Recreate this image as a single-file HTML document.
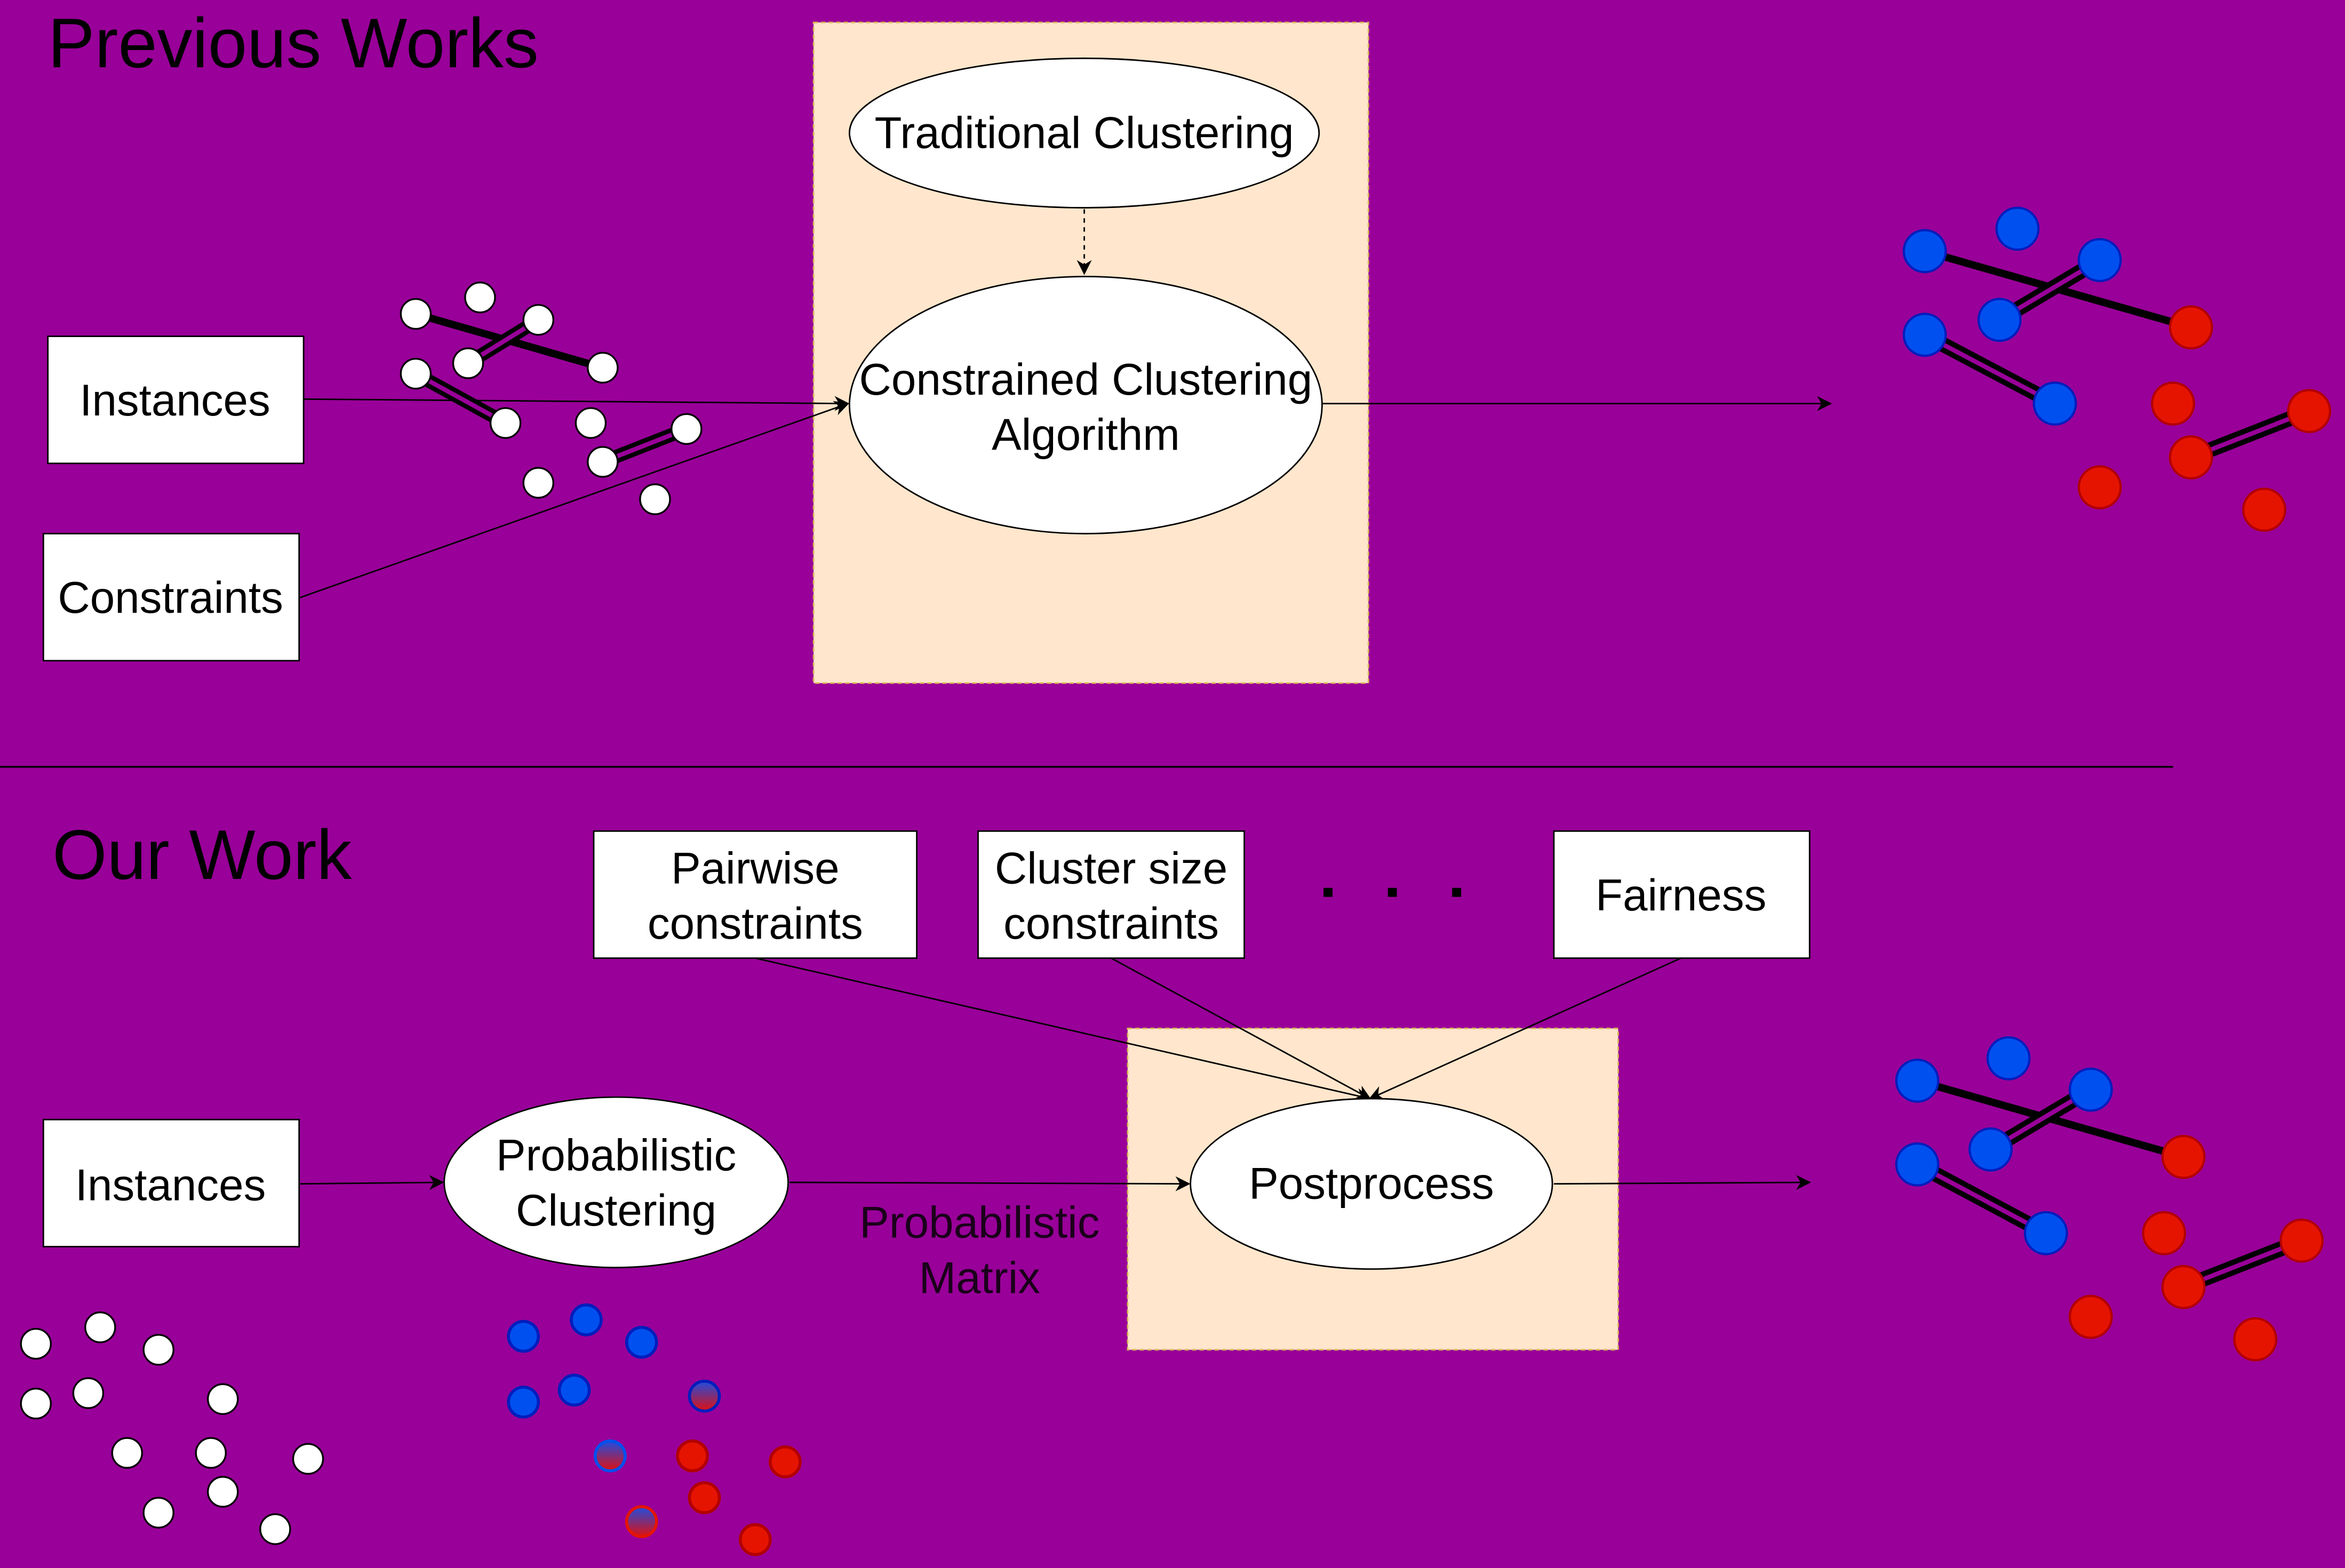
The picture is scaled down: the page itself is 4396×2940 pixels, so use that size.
<!DOCTYPE html>
<html><head><meta charset="utf-8"><style>html,body{margin:0;padding:0;background:#990099}svg{display:block}</style></head>
<body>
<svg width="4396" height="2940" viewBox="0 0 1568 1049" preserveAspectRatio="none" xmlns="http://www.w3.org/2000/svg" font-family="Liberation Sans, sans-serif">
<defs>
<marker id="a" markerWidth="10" markerHeight="10" refX="9" refY="5" orient="auto" markerUnits="userSpaceOnUse"><path d="M0,0 L10,5 L0,10 L3,5 z" fill="#000"/></marker>
<linearGradient id="g" x1="0" y1="0" x2="0" y2="1"><stop offset="0" stop-color="#1f4de0"/><stop offset="1" stop-color="#e01010"/></linearGradient>
</defs>
<rect width="1568" height="1049" fill="#990099"/>
<text x="32" y="45" font-size="47">Previous Works</text>
<rect x="544" y="15" width="371" height="442" fill="#FFE6CC" stroke="#d6b656" stroke-dasharray="3 2"/>
<ellipse cx="725" cy="89" rx="157" ry="50" fill="#fff" stroke="#000"/>
<text x="725" y="99" font-size="29.8" text-anchor="middle">Traditional Clustering</text>
<line x1="725" y1="140" x2="725" y2="183" stroke="#000" stroke-dasharray="3 3" marker-end="url(#a)"/>
<ellipse cx="726" cy="271" rx="158" ry="86" fill="#fff" stroke="#000"/>
<text x="726" y="264" font-size="29.8" text-anchor="middle">Constrained Clustering</text>
<text x="726" y="301" font-size="29.8" text-anchor="middle">Algorithm</text>
<rect x="32" y="225" width="171" height="85" fill="#fff" stroke="#000"/>
<text x="117" y="278" font-size="29.8" text-anchor="middle">Instances</text>
<rect x="29" y="357" width="171" height="85" fill="#fff" stroke="#000"/>
<text x="114" y="410" font-size="29.8" text-anchor="middle">Constraints</text>
<line x1="203" y1="267" x2="567" y2="270" stroke="#000" marker-end="url(#a)"/>
<line x1="200" y1="400" x2="567" y2="270" stroke="#000" marker-end="url(#a)"/>
<line x1="884" y1="270" x2="1224" y2="270" stroke="#000" marker-end="url(#a)"/>
<g stroke="#000" stroke-width="5"><line x1="278" y1="210" x2="403" y2="246"/></g>
<g stroke="#000" stroke-width="9"><line x1="313" y1="243" x2="360" y2="214"/><line x1="278" y1="250" x2="338" y2="283"/><line x1="403" y1="309" x2="459" y2="287"/></g>
<g stroke="#990099" stroke-width="3"><line x1="313" y1="243" x2="360" y2="214"/><line x1="278" y1="250" x2="338" y2="283"/><line x1="403" y1="309" x2="459" y2="287"/></g>
<g fill="#fff" stroke="#000" stroke-width="1.2">
<circle cx="278" cy="210" r="10"/><circle cx="321" cy="199" r="10"/><circle cx="360" cy="214" r="10"/><circle cx="403" cy="246" r="10"/><circle cx="278" cy="250" r="10"/><circle cx="313" cy="243" r="10"/><circle cx="338" cy="283" r="10"/><circle cx="395" cy="283" r="10"/><circle cx="403" cy="309" r="10"/><circle cx="459" cy="287" r="10"/><circle cx="360" cy="323" r="10"/><circle cx="438" cy="334" r="10"/>
</g>
<g stroke="#000" stroke-width="5"><line x1="1287" y1="168" x2="1465" y2="219"/></g>
<g stroke="#000" stroke-width="10"><line x1="1337" y1="214" x2="1404" y2="174"/><line x1="1287" y1="224" x2="1374" y2="270"/><line x1="1465" y1="306" x2="1544" y2="275"/></g>
<g stroke="#990099" stroke-width="3"><line x1="1337" y1="214" x2="1404" y2="174"/><line x1="1287" y1="224" x2="1374" y2="270"/><line x1="1465" y1="306" x2="1544" y2="275"/></g>
<g fill="#0050ef" stroke="#001dbc" stroke-width="1.5">
<circle cx="1287" cy="168" r="14"/><circle cx="1349" cy="153" r="14"/><circle cx="1404" cy="174" r="14"/><circle cx="1337" cy="214" r="14"/><circle cx="1287" cy="224" r="14"/><circle cx="1374" cy="270" r="14"/></g>
<g fill="#e51400" stroke="#b20000" stroke-width="1.5">
<circle cx="1465" cy="219" r="14"/><circle cx="1453" cy="270" r="14"/><circle cx="1465" cy="306" r="14"/><circle cx="1544" cy="275" r="14"/><circle cx="1404" cy="326" r="14"/><circle cx="1514" cy="341" r="14"/></g>
<line x1="0" y1="513" x2="1453" y2="513" stroke="#000" stroke-width="1.2"/>
<text x="35" y="588" font-size="47">Our Work</text>
<rect x="397" y="556" width="216" height="85" fill="#fff" stroke="#000"/>
<text x="505" y="591" font-size="29.8" text-anchor="middle">Pairwise</text>
<text x="505" y="628" font-size="29.8" text-anchor="middle">constraints</text>
<rect x="654" y="556" width="178" height="85" fill="#fff" stroke="#000"/>
<text x="743" y="591" font-size="29.8" text-anchor="middle">Cluster size</text>
<text x="743" y="628" font-size="29.8" text-anchor="middle">constraints</text>
<g fill="#000"><rect x="885" y="594" width="6" height="6"/><rect x="928" y="594" width="6" height="6"/><rect x="971" y="594" width="6" height="6"/></g>
<rect x="1039" y="556" width="171" height="85" fill="#fff" stroke="#000"/>
<text x="1124" y="609" font-size="29.8" text-anchor="middle">Fairness</text>
<rect x="754" y="688" width="328" height="215" fill="#FFE6CC" stroke="#d6b656" stroke-dasharray="3 2"/>
<line x1="505" y1="641" x2="916" y2="735" stroke="#000" marker-end="url(#a)"/>
<line x1="743" y1="641" x2="916" y2="735" stroke="#000" marker-end="url(#a)"/>
<line x1="1124" y1="641" x2="916" y2="735" stroke="#000" marker-end="url(#a)"/>
<ellipse cx="917" cy="792" rx="121" ry="57" fill="#fff" stroke="#000"/>
<text x="917" y="802" font-size="29.8" text-anchor="middle">Postprocess</text>
<rect x="29" y="749" width="171" height="85" fill="#fff" stroke="#000"/>
<text x="114" y="803" font-size="29.8" text-anchor="middle">Instances</text>
<ellipse cx="412" cy="791" rx="115" ry="57" fill="#fff" stroke="#000"/>
<text x="412" y="783" font-size="29.8" text-anchor="middle">Probabilistic</text>
<text x="412" y="820" font-size="29.8" text-anchor="middle">Clustering</text>
<line x1="200" y1="792" x2="296" y2="791" stroke="#000" marker-end="url(#a)"/>
<line x1="528" y1="791" x2="795" y2="792" stroke="#000" marker-end="url(#a)"/>
<line x1="1039" y1="792" x2="1210" y2="791" stroke="#000" marker-end="url(#a)"/>
<text x="655" y="828" font-size="29.8" text-anchor="middle" fill="#1a001a">Probabilistic</text>
<text x="655" y="865" font-size="29.8" text-anchor="middle" fill="#1a001a">Matrix</text>
<g fill="#fff" stroke="#000" stroke-width="1.2">
<circle cx="24" cy="899" r="10"/><circle cx="67" cy="888" r="10"/><circle cx="106" cy="903" r="10"/><circle cx="24" cy="939" r="10"/><circle cx="59" cy="932" r="10"/><circle cx="149" cy="936" r="10"/><circle cx="85" cy="972" r="10"/><circle cx="141" cy="972" r="10"/><circle cx="206" cy="976" r="10"/><circle cx="149" cy="998" r="10"/><circle cx="106" cy="1012" r="10"/><circle cx="184" cy="1023" r="10"/></g>
<g fill="#0050ef" stroke="#001dbc" stroke-width="2">
<circle cx="350" cy="894" r="10"/><circle cx="392" cy="883" r="10"/><circle cx="429" cy="898" r="10"/><circle cx="350" cy="938" r="10"/><circle cx="384" cy="930" r="10"/></g>
<circle cx="471" cy="934" r="10" fill="url(#g)" stroke="#001dbc" stroke-width="2"/>
<circle cx="408" cy="974" r="10" fill="url(#g)" stroke="#0050ef" stroke-width="2"/>
<circle cx="429" cy="1018" r="10" fill="url(#g)" stroke="#e51400" stroke-width="2"/>
<g fill="#e51400" stroke="#b20000" stroke-width="2">
<circle cx="463" cy="974" r="10"/><circle cx="525" cy="978" r="10"/><circle cx="471" cy="1002" r="10"/><circle cx="505" cy="1030" r="10"/></g>
<g stroke="#000" stroke-width="5"><line x1="1282" y1="723" x2="1460" y2="774"/></g>
<g stroke="#000" stroke-width="10"><line x1="1331" y1="769" x2="1398" y2="729"/><line x1="1282" y1="779" x2="1368" y2="825"/><line x1="1460" y1="861" x2="1539" y2="830"/></g>
<g stroke="#990099" stroke-width="3"><line x1="1331" y1="769" x2="1398" y2="729"/><line x1="1282" y1="779" x2="1368" y2="825"/><line x1="1460" y1="861" x2="1539" y2="830"/></g>
<g fill="#0050ef" stroke="#001dbc" stroke-width="1.5">
<circle cx="1282" cy="723" r="14"/><circle cx="1343" cy="708" r="14"/><circle cx="1398" cy="729" r="14"/><circle cx="1331" cy="769" r="14"/><circle cx="1282" cy="779" r="14"/><circle cx="1368" cy="825" r="14"/></g>
<g fill="#e51400" stroke="#b20000" stroke-width="1.5">
<circle cx="1460" cy="774" r="14"/><circle cx="1447" cy="825" r="14"/><circle cx="1460" cy="861" r="14"/><circle cx="1539" cy="830" r="14"/><circle cx="1398" cy="881" r="14"/><circle cx="1508" cy="896" r="14"/></g>
</svg>
</body></html>
